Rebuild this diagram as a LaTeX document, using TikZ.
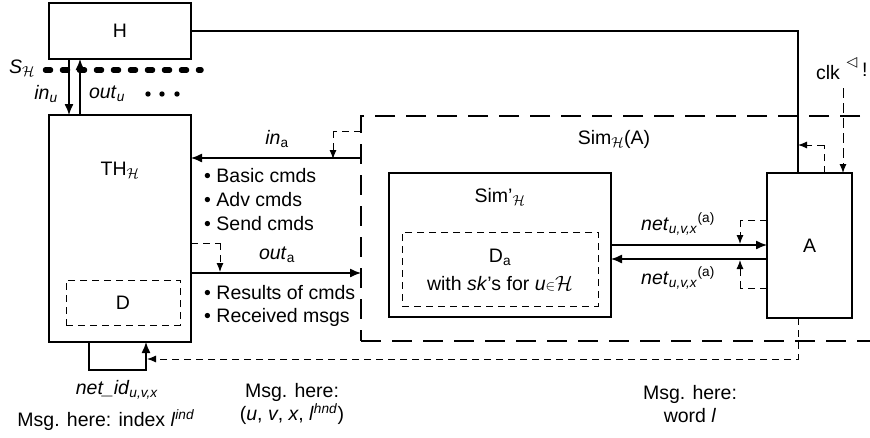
\documentclass[tikz,border=0pt]{standalone}
\usepackage{fontspec}
\setmainfont{Liberation Sans}
\newfontfamily\dejavu{DejaVu Sans}
\usetikzlibrary{arrows.meta,calc}
\begin{document}
\begin{tikzpicture}[x=1pt,y=-1pt,
  font=\fontsize{19.5}{23}\selectfont,
  every node/.style={inner sep=0pt},
  box/.style={draw,line width=1.3pt,inner sep=0pt,outer sep=0pt,anchor=north west},
  arr/.style={-{Latex[length=11pt,width=9pt]},line width=1.3pt},
  sarr/.style={-{Latex[length=9pt,width=7pt]},line width=1pt},
  sdash/.style={dash pattern=on 7pt off 5pt,line width=1pt},
  ldash/.style={dash pattern=on 20pt off 11pt,line width=1.2pt},
  mdash/.style={dash pattern=on 10pt off 5pt,line width=1pt},
]
\useasboundingbox (0,0) rectangle (870,437);

% boxes
\node[box,minimum width=142pt,minimum height=56pt] (H) at (49,3) {H};
\node[box,minimum width=142pt,minimum height=227pt] (TH) at (49,115) {};
\node (THl) at (120,170) {TH$_{\mathcal{H}}$};
\node[box,sdash,minimum width=114pt,minimum height=45pt] (D) at (66,280) {D};
\node[box,ldash,minimum width=540pt,minimum height=225pt] (Sim) at (361,116) {};
\node (Siml) at (614,139) {Sim$_{\mathcal{H}}$(A)};
\node[box,minimum width=222pt,minimum height=144pt] (Sp) at (389,173) {};
\node (Spl) at (500,197) {Sim'$_{\mathcal{H}}$};
\node[box,sdash,minimum width=196pt,minimum height=74pt] (Da) at (402,232) {};
\node (Dal) at (500,257) {D\textsubscript{a}};
\node (Dal2) at (500,284) {with \textit{sk}'s for \textit{u}$\scriptstyle\in$$\mathcal{H}$};
\node[box,minimum width=85pt,minimum height=145pt] (A) at (767,173) {A};

% S_H line
\draw[line width=5.5pt,line cap=round,dash pattern=on 5pt off 12pt] (45.5,70) -- (201,70);
\node (SH) at (22,68) {\textit{S}$_{\mathcal{H}}$};

% in_u / out_u
\draw[arr] ([xshift=20pt]H.south west) -- ([xshift=20pt]TH.north west);
\draw[arr] ([xshift=31pt]TH.north west) -- ([xshift=31pt]H.south west);
\node (inu) at (46,94) {\textit{in}\textsubscript{\textit{u}}};
\node (outu) at (107,94) {\textit{out}\textsubscript{\textit{u}}};
\fill (148,94) circle (2.7pt) (162,94) circle (2.7pt) (177,94) circle (2.7pt);

% H to A
\draw[line width=1.3pt] (H.east) -| ([xshift=31pt]A.north west);
\coordinate (aux1) at (824,145);
\draw[sdash] (aux1 |- A.north) -- (aux1);
\draw[sdash,sarr] (aux1) -- ([xshift=31pt]A.north west |- aux1);

% clk
\node (clk) at (828,73) {clk};
\node (tri) at (852,63) {\dejavu\fontsize{14}{14}\selectfont ◁};
\node[anchor=west] (excl) at (862,70) {!};
\coordinate (clkc) at (843,88);
\draw[mdash,sarr] (clkc) -- (clkc |- A.north);

% in_a
\coordinate (ina) at (361,158);
\draw[arr] (ina) -- (ina -| TH.east);
\node (inal) at (277,139) {\textit{in}\textsubscript{a}};
\coordinate (inac) at (333,131);
\draw[sdash] (inac -| Sim.west) -- (inac);
\draw[sdash,sarr] (inac) -- ([yshift=-1pt]inac |- ina);
\node[anchor=west] (b1) at (204,176) {• Basic cmds};
\node[anchor=west] (b2) at (204,200) {• Adv cmds};
\node[anchor=west] (b3) at (204,224) {• Send cmds};

% out_a
\coordinate (outa) at (191,273);
\draw[arr] (outa) -- (outa -| Sim.west);
\node (outal) at (277,255) {\textit{out}\textsubscript{a}};
\coordinate (outac) at (220,243);
\draw[sdash] (outac -| TH.east) -- (outac);
\draw[sdash,sarr] (outac) -- ([yshift=1pt]outac |- outa);
\node[anchor=west] (b4) at (204,293) {• Results of cmds};
\node[anchor=west] (b5) at (204,317) {• Received msgs};

% net arrows
\draw[arr] ([yshift=-72pt]Sp.north east) -- ([yshift=-72pt]A.north west);
\draw[arr] ([yshift=-86pt]A.north west) -- ([yshift=-86pt]Sp.north east);
\node (net1) at (678,224) {\textit{net}\textsubscript{\textit{u,v,x}}\textsuperscript{(a)}};
\node (net2) at (678,278) {\textit{net}\textsubscript{\textit{u,v,x}}\textsuperscript{(a)}};
\coordinate (nc1) at (740,220);
\draw[sdash] (nc1 -| A.west) -- (nc1);
\draw[sdash,sarr] (nc1) -- ([yshift=1pt]nc1 |- 0,245);
\coordinate (nc2) at (740,288);
\draw[sdash] (nc2 -| A.west) -- (nc2);
\draw[sdash,sarr] (nc2) -- ([yshift=-1pt]nc2 |- 0,259);

% bottom loop and return
\draw[arr] ([xshift=40pt]TH.south west) -- ++(0,28) -- ++(57,0) -- ([xshift=97pt]TH.south west);
\coordinate (ret) at (147,359);
\draw[sdash,sarr] ([xshift=31pt]A.south west) |- (ret);

% bottom labels
\node (netid) at (117,390) {\textit{net\_id}\textsubscript{\textit{u,v,x}}};
\node (m1) at (106,420) {Msg. here: index \textit{l}\textsuperscript{\textit{ind}}};
\node[align=center] (m2) at (292,404) {Msg. here:\\(\textit{u}, \textit{v}, \textit{x}, \textit{l}\textsuperscript{\textit{hnd}})};
\node[align=center] (m3) at (690,404) {Msg. here:\\word \textit{l}};
\end{tikzpicture}
\end{document}
